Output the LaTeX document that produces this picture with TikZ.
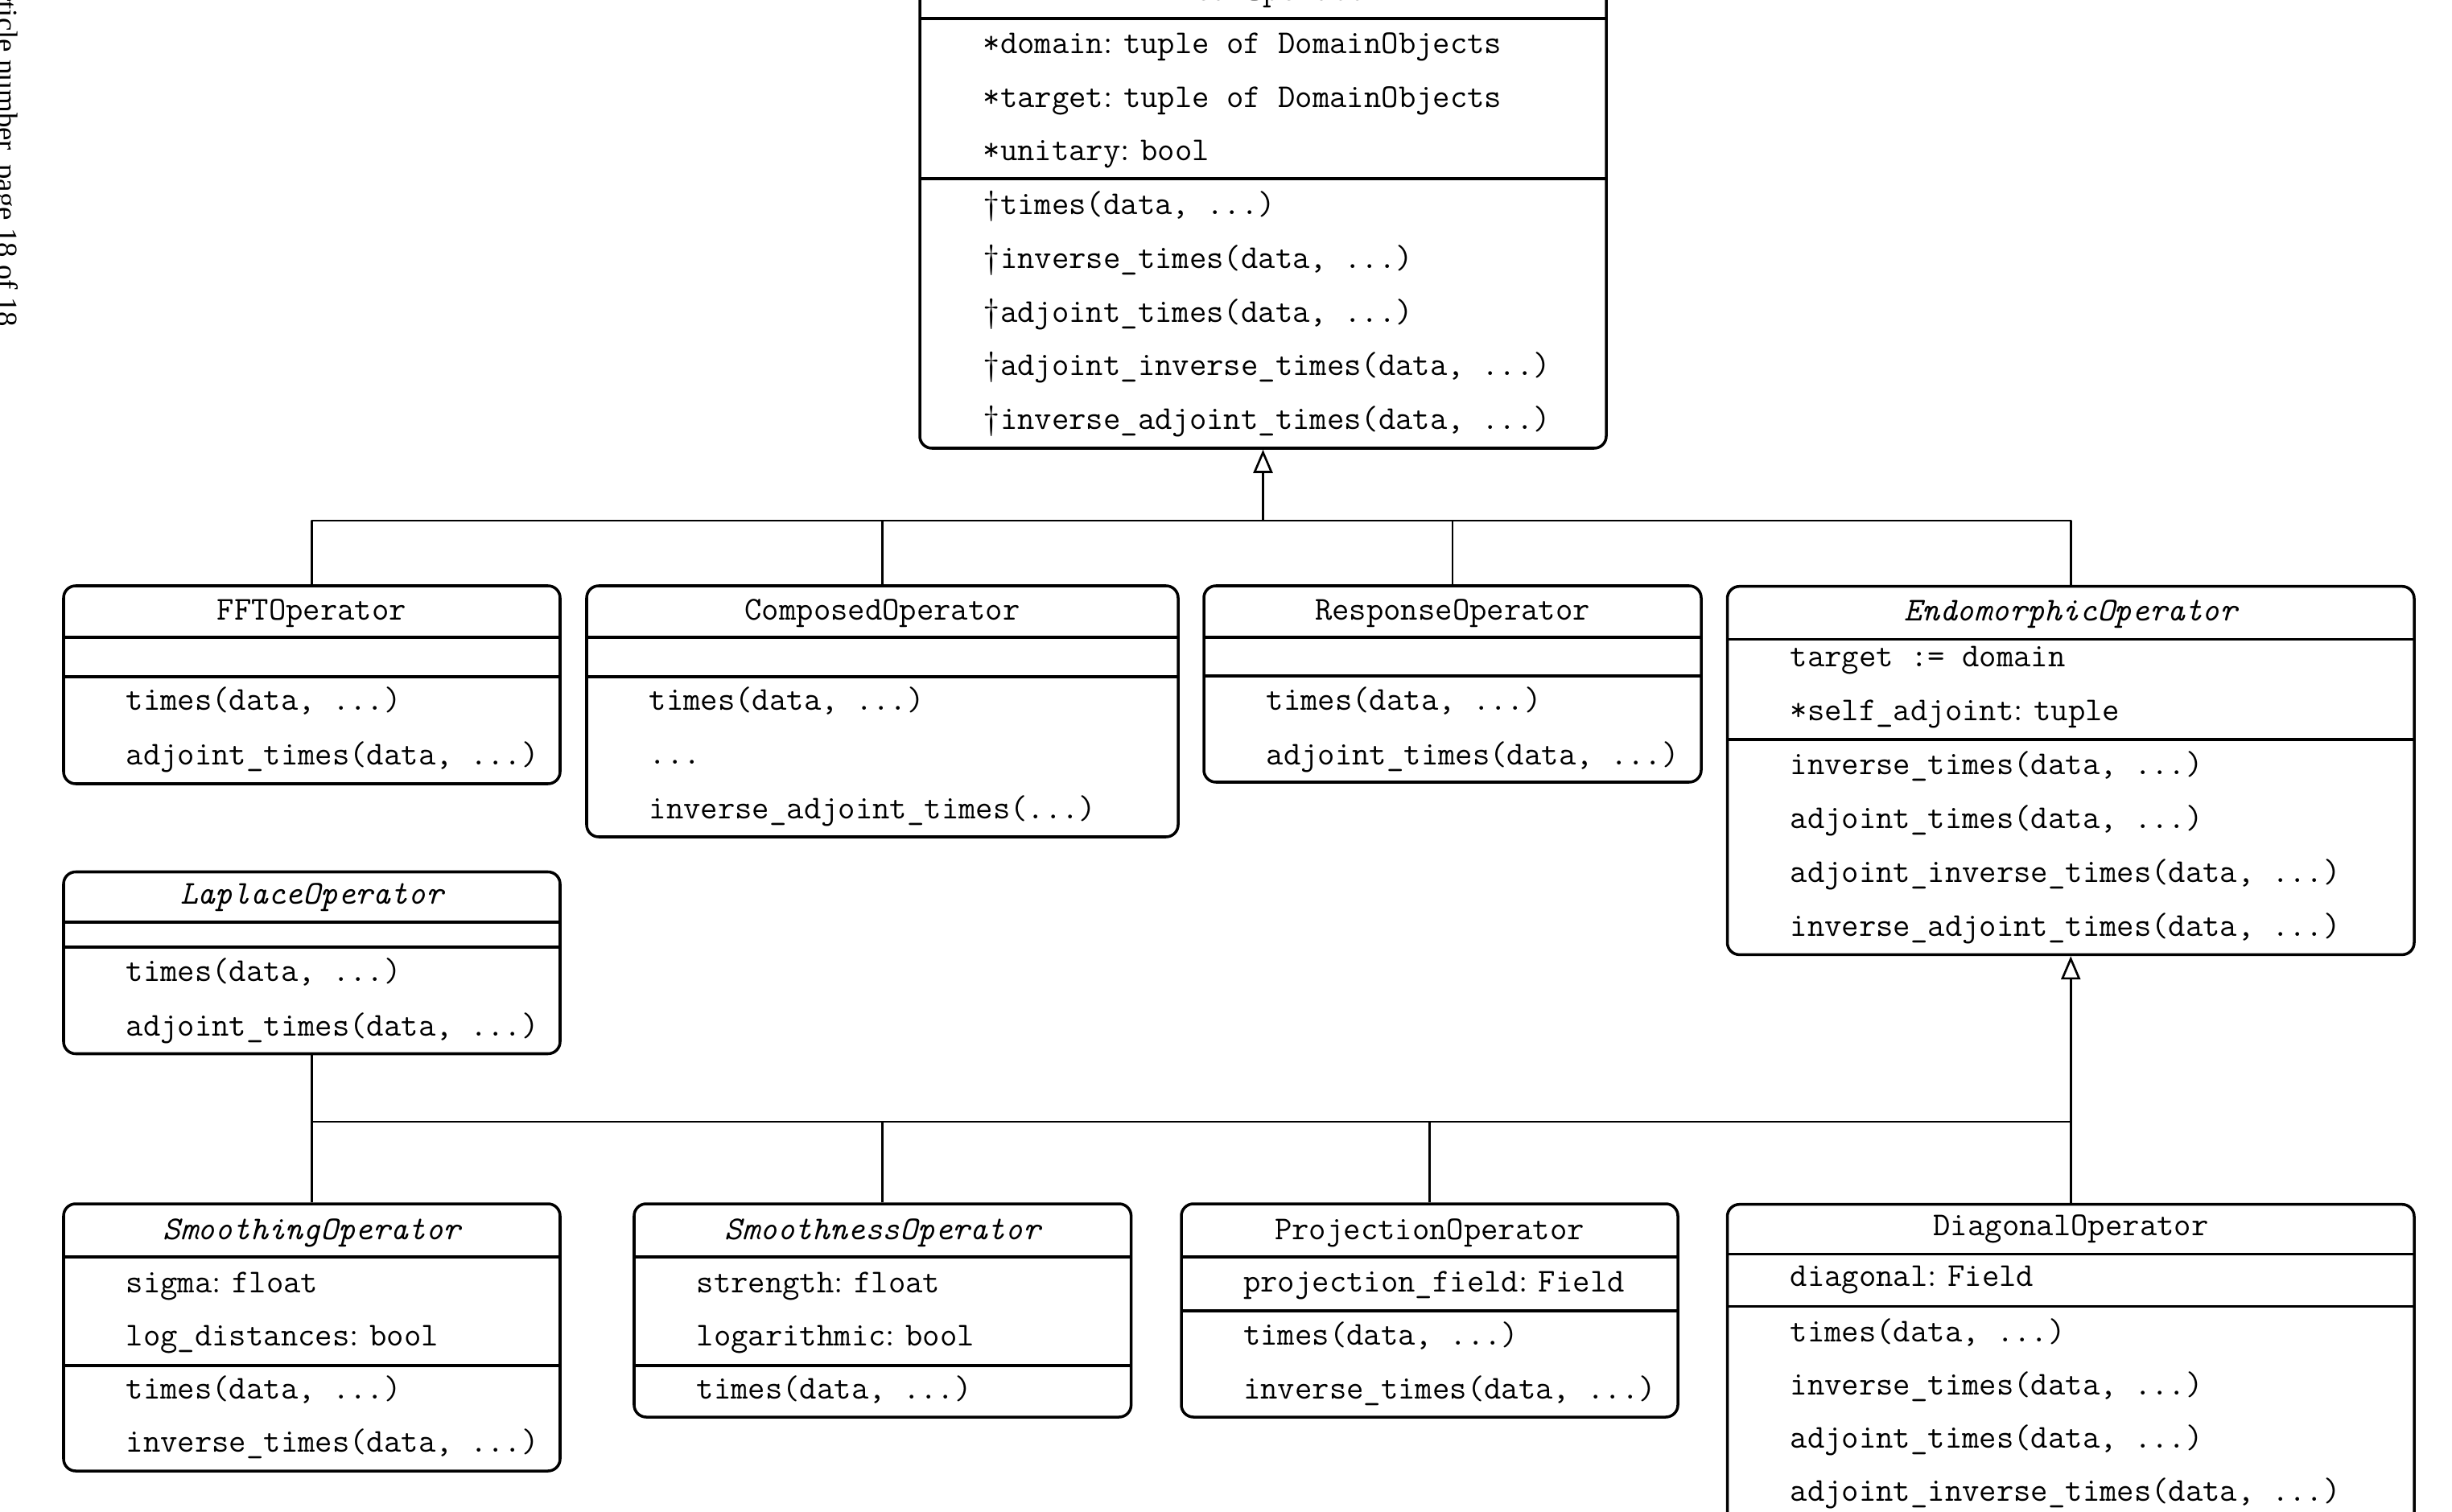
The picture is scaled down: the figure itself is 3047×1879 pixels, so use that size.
\documentclass[tikz,border=0pt]{standalone}
\usepackage{fontspec}
\usetikzlibrary{arrows.meta,fit}
\newfontfamily\pagefont{Liberation Serif}
\newcommand{\tdots}{...}
\newcommand{\dargs}{(data, \tdots)}
\newcommand{\cln}{{\rmfamily:\ }}
\tikzset{
	umlbox/.style={draw, line width=1pt, rounded corners=0.15cm, inner sep=0pt},
	classname/.style={anchor=base, inner sep=0pt},
	member/.style={anchor=base west, inner sep=0pt},
	sepline/.style={line width=1pt},
	link/.style={line width=0.75pt},
	inherit/.style={link, -{Triangle[open, length=0.29cm, width=0.24cm]}}
}
\begin{document}
\begin{tikzpicture}[x=0.01cm, y=-0.01cm, line join=round, font=\fontsize{11.8}{14}\selectfont\ttfamily]
	\useasboundingbox (0,0) rectangle (3047,1879);
	\node[font=\fontsize{10.5}{12}\selectfont\pagefont, rotate=-90, anchor=base west, inner sep=0pt] (pagenum) at (-4,-38) {Article number, page 18 of 18};
	% base class
	\node[umlbox, fit={(1143,-45) (1996,557)}] (lin) {};
	\node[classname] (lin-t) at (1569.5,1) {LinearOperator};
	\draw[sepline] (1143,23) -- (1996,23) (1143,222) -- (1996,222);
	\foreach \t [count=\i] in {{*domain\cln tuple of DomainObjects},{*target\cln tuple of DomainObjects},{*unitary\cln bool}}
		\node[member] (lin-a\i) at (1221,{67+66.5*(\i-1)}) {\t};
	\foreach \t [count=\i] in {{\dag times\dargs},{\dag inverse\_times\dargs},{\dag adjoint\_times\dargs},{\dag adjoint\_inverse\_times\dargs},{\dag inverse\_adjoint\_times\dargs}}
		\node[member] (lin-m\i) at (1221,{267+66.5*(\i-1)}) {\t};
	% second row
	\node[umlbox, fit={(79,728) (696,974)}] (fft) {};
	\node[classname] (fft-t) at (387.5,770) {FFTOperator};
	\draw[sepline] (79,792) -- (696,792) (79,841) -- (696,841);
	\foreach \t [count=\i] in {{times\dargs},{adjoint\_times\dargs}}
		\node[member] (fft-m\i) at (156,{882+68*(\i-1)}) {\t};
	\node[umlbox, fit={(729,728) (1464,1040)}] (comp) {};
	\node[classname] (comp-t) at (1096.5,770) {ComposedOperator};
	\draw[sepline] (729,792) -- (1464,792) (729,841) -- (1464,841);
	\foreach \t [count=\i] in {{times\dargs},{\tdots},{inverse\_adjoint\_times(\tdots)}}
		\node[member] (comp-m\i) at (806,{882+67.5*(\i-1)}) {\t};
	\node[umlbox, fit={(1496,728) (2114,972)}] (resp) {};
	\node[classname] (resp-t) at (1805,770) {ResponseOperator};
	\draw[sepline] (1496,792) -- (2114,792) (1496,840) -- (2114,840);
	\foreach \t [count=\i] in {{times\dargs},{adjoint\_times\dargs}}
		\node[member] (resp-m\i) at (1573,{882+68*(\i-1)}) {\t};
	\node[umlbox, fit={(2146.5,728.7) (3000,1186.4)}] (endo) {};
	\node[classname] (endo-t) at (2573.5,771) {\itshape EndomorphicOperator};
	\draw[sepline] (2146.5,794.7) -- (3000,794.7) (2146.5,919) -- (3000,919);
	\foreach \t [count=\i] in {{target := domain},{*self\_adjoint\cln tuple}}
		\node[member] (endo-a\i) at (2224,{828+67*(\i-1)}) {\t};
	\foreach \t [count=\i] in {{inverse\_times\dargs},{adjoint\_times\dargs},{adjoint\_inverse\_times\dargs},{inverse\_adjoint\_times\dargs}}
		\node[member] (endo-m\i) at (2224,{962+67*(\i-1)}) {\t};
	\node[umlbox, fit={(79,1083.5) (696,1309.5)}] (laplace) {};
	\node[classname] (laplace-t) at (387.5,1123) {\itshape LaplaceOperator};
	\draw[sepline] (79,1146) -- (696,1146) (79,1177) -- (696,1177);
	\foreach \t [count=\i] in {{times\dargs},{adjoint\_times\dargs}}
		\node[member] (laplace-m\i) at (156,{1219+68*(\i-1)}) {\t};
	% third row
	\node[umlbox, fit={(79,1496) (696,1828)}] (smoothing) {};
	\node[classname] (smoothing-t) at (387.5,1540) {\itshape SmoothingOperator};
	\draw[sepline] (79,1562) -- (696,1562) (79,1697) -- (696,1697);
	\foreach \t [count=\i] in {{sigma\cln float},{log\_distances\cln bool},{times\dargs},{inverse\_times\dargs}}
		\node[member] (smoothing-r\i) at (156,{1606+66.3*(\i-1)}) {\t};
	\node[umlbox, fit={(788,1496) (1405.6,1761)}] (smoothness) {};
	\node[classname] (smoothness-t) at (1096.8,1540) {\itshape SmoothnessOperator};
	\draw[sepline] (788,1562) -- (1405.6,1562) (788,1697) -- (1405.6,1697);
	\foreach \t [count=\i] in {{strength\cln float},{logarithmic\cln bool},{times\dargs}}
		\node[member] (smoothness-r\i) at (865,{1606+66.3*(\i-1)}) {\t};
	\node[umlbox, fit={(1468,1496) (2085,1761)}] (proj) {};
	\node[classname] (proj-t) at (1776.5,1540) {ProjectionOperator};
	\draw[sepline] (1468,1562) -- (2085,1562) (1468,1629) -- (2085,1629);
	\foreach \t [count=\i] in {{projection\_field\cln Field},{times\dargs},{inverse\_times\dargs}}
		\node[member] (proj-r\i) at (1544.5,{1605+66.5*(\i-1)}) {\t};
	\node[umlbox, fit={(2146.5,1496.7) (3000,1900)}] (diag) {};
	\node[classname] (diag-t) at (2573.5,1535) {DiagonalOperator};
	\draw[sepline] (2146.5,1558.7) -- (3000,1558.7) (2146.5,1623.3) -- (3000,1623.3);
	\node[member] (diag-a1) at (2224,1598) {diagonal\cln Field};
	\foreach \t [count=\i] in {{times\dargs},{inverse\_times\dargs},{adjoint\_times\dargs},{adjoint\_inverse\_times\dargs}}
		\node[member] (diag-m\i) at (2224,{1667+66*(\i-1)}) {\t};
	% inheritance
	\coordinate (top-bus) at (1569.5,647);
	\draw[inherit] (top-bus) -- (lin.south);
	\foreach \c in {fft,comp,resp,endo}
		\draw[link] (\c.north) |- (top-bus);
	\coordinate (low-bus) at (2573.5,1394);
	\draw[inherit] (diag.north) -- (endo.south);
	\draw[link] (laplace.south) -- (smoothing.north);
	\foreach \c in {smoothing,smoothness,proj}
		\draw[link] (\c.north) |- (low-bus);
\end{tikzpicture}
\end{document}
